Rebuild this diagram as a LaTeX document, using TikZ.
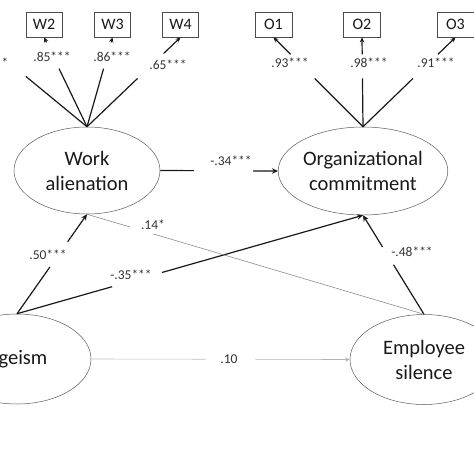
\documentclass[tikz,border=0pt]{standalone}
\usepackage{fontspec}
\setmainfont{Carlito}
\usetikzlibrary{shapes.geometric,calc,arrows.meta}
\begin{document}
\begin{tikzpicture}[x=1pt,y=-1pt,
  latent/.style={ellipse,draw=black!65,line width=0.5pt,inner sep=0pt,align=center,text=black!90,font=\fontsize{20.5}{25}\selectfont},
  indbox/.style={draw=black!70,line width=0.7pt,minimum width=36pt,minimum height=25pt,inner sep=0pt,text=black!90,font=\fontsize{16}{17}\selectfont},
  lab/.style={inner sep=0pt,text=black!80,font=\fontsize{13.5}{14}\selectfont},
  pathline/.style={line width=1.2pt,draw=black!90},
  thinline/.style={line width=0.6pt,draw=black!45},
  faintline/.style={line width=0.6pt,draw=black!25},
  tip/.style={-{Stealth[length=6pt,width=5.5pt]}},
  smalltip/.style={-{Stealth[length=5pt,width=4.5pt]}}
]
\useasboundingbox (0,0) rectangle (474,474);

% latent variables
\node[latent,minimum width=146pt,minimum height=87pt] (wa) at (87,170.5) {Work\\alienation};
\node[latent,minimum width=148pt,minimum height=88pt] (oc) at (363,171) {Organizational\\commitment};
\node[latent,minimum width=148pt,minimum height=90pt] (ag) at (17,359) {Ageism};
\node[latent,minimum width=148pt,minimum height=90pt] (es) at (424,359.5) {Employee\\silence};

% indicators
\coordinate (w1) at (-22,37);
\node[indbox] (w2) at (44,24.5) {W2};
\node[indbox] (w3) at (112.5,24.5) {W3};
\node[indbox] (w4) at (180.5,24.5) {W4};
\node[indbox,minimum width=37pt] (o1) at (273.5,24.5) {O1};
\node[indbox,minimum width=37pt] (o2) at (362,24.5) {O2};
\node[indbox,minimum width=37pt] (o3) at (455.5,24.5) {O3};

% work alienation loadings
\draw[pathline] (wa.north) -- ($(wa.north)!0.562!(w1)$);
\node[lab] (lw1) at (5,63) {*};
\draw[pathline] (wa.north) -- ($(wa.north)!0.65!(w2.south)$);
\draw[pathline,smalltip] ($(wa.north)!0.944!(w2.south)$) -- (w2.south);
\node[lab] (lw2) at (52,57) {.85***};
\draw[pathline] (wa.north) -- ($(wa.north)!0.65!(w3.south)$);
\draw[pathline,smalltip] ($(wa.north)!0.944!(w3.south)$) -- (w3.south);
\node[lab] (lw3) at (112,57) {.86***};
\draw[pathline] (wa.north) -- ($(wa.north)!0.54!(w4.south)$);
\draw[pathline,smalltip] ($(wa.north)!0.82!(w4.south)$) -- (w4.south);
\node[lab] (lw4) at (168,65) {.65***};

% organizational commitment loadings
\draw[pathline] (oc.north) -- ($(oc.north)!0.54!(o1.south)$);
\draw[pathline,smalltip] ($(oc.north)!0.81!(o1.south)$) -- (o1.south);
\node[lab] (lo1) at (290,63) {.93***};
\draw[pathline] (oc.north) -- ($(oc.north)!0.54!(o2.south)$);
\draw[pathline,smalltip] ($(oc.north)!0.81!(o2.south)$) -- (o2.south);
\node[lab] (lo2) at (369,63) {.98***};
\draw[pathline] (oc.north) -- ($(oc.north)!0.54!(o3.south)$);
\draw[pathline,smalltip] ($(oc.north)!0.81!(o3.south)$) -- (o3.south);
\node[lab] (lo3) at (436,63) {.91***};

% structural paths
\draw[pathline] (wa.east) -- ($(wa.east)!0.287!(oc.west)$);
\draw[pathline,tip] ($(wa.east)!0.79!(oc.west)$) -- (oc.west);
\node[lab] (p1) at (231,161) {-.34***};

\draw[pathline] (ag.north) -- ($(ag.north)!0.47!(wa.south)$);
\draw[pathline,tip] ($(ag.north)!0.724!(wa.south)$) -- (wa.south);
\node[lab] (p2) at (48,255) {.50***};

\draw[pathline] (ag.north) -- ($(ag.north)!0.275!(oc.south)$);
\draw[pathline,tip] ($(ag.north)!0.419!(oc.south)$) -- (oc.south);
\node[lab] (p3) at (131,275) {-.35***};

\draw[pathline] (es.north) -- ($(es.north)!0.5!(oc.south)$);
\draw[pathline,tip] ($(es.north)!0.68!(oc.south)$) -- (oc.south);
\node[lab] (p4) at (412,252) {-.48***};

\draw[thinline] (wa.south) -- ($(wa.south)!0.128!(es.north)$);
\draw[thinline] ($(wa.south)!0.197!(es.north)$) -- (es.north);
\node[lab] (p5) at (153,225) {.14*};

\draw[faintline] (ag.east) -- ($(ag.east)!0.442!(es.west)$);
\draw[faintline,-{Stealth[length=4.5pt,width=4pt]},draw=black!30] ($(ag.east)!0.635!(es.west)$) -- (es.west);
\node[lab] (p6) at (229,359) {.10};
\end{tikzpicture}
\end{document}
